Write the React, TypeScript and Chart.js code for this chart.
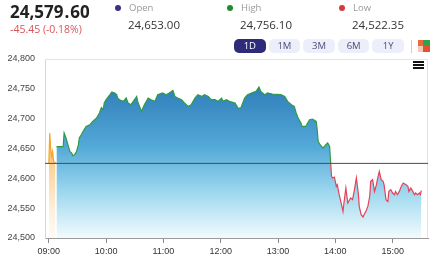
import React, { useEffect, useRef } from 'react';
import { Chart, registerables } from 'chart.js';

Chart.register(...registerables);

// ---- data ----
const preOpenTimes = ['09:00', '09:01', '09:02', '09:03', '09:04', '09:05', '09:07'];
const preOpenValues = [24625.7, 24676, 24648, 24636.8, 24645, 24628.4, 24625.7];

const sessionTimes = [
  '09:08', '09:15', '09:16', '09:18', '09:20', '09:22', '09:24', '09:25', '09:27', '09:29',
  '09:31', '09:32', '09:34', '09:36', '09:39', '09:43', '09:46', '09:50', '09:53', '09:55',
  '09:57', '09:58', '10:00', '10:04', '10:06', '10:09', '10:11', '10:12', '10:14', '10:18',
  '10:21', '10:23', '10:26', '10:32', '10:33', '10:37', '10:40', '10:44', '10:47', '10:51',
  '10:54', '10:59', '11:03', '11:06', '11:10', '11:12', '11:15', '11:19', '11:22', '11:26',
  '11:29', '11:33', '11:36', '11:40', '11:43', '11:47', '11:50', '11:54', '11:57', '12:01',
  '12:02', '12:06', '12:09', '12:15', '12:18', '12:21', '12:25', '12:28', '12:34', '12:37',
  '12:40', '12:42', '12:46', '12:49', '12:54', '13:03', '13:07', '13:10', '13:14', '13:17',
  '13:19', '13:21', '13:24', '13:25', '13:29', '13:31', '13:33', '13:36', '13:40', '13:41',
  '13:42', '13:44', '13:47', '13:50', '13:52', '13:54', '13:55', '13:56', '13:57', '13:59',
  '14:01', '14:02', '14:04', '14:06', '14:08', '14:09', '14:11', '14:13', '14:15', '14:16',
  '14:18', '14:20', '14:22', '14:24', '14:25', '14:27', '14:29', '14:30', '14:32', '14:34',
  '14:36', '14:37', '14:39', '14:41', '14:43', '14:44', '14:46', '14:48', '14:50', '14:51',
  '14:53', '14:55', '14:56', '14:58', '15:00', '15:02', '15:03', '15:05', '15:07', '15:09',
  '15:11', '15:14', '15:16', '15:17', '15:19', '15:21', '15:23', '15:24', '15:26', '15:28',
  '15:29', '15:30',
];
const sessionValues = [
  24653, 24653, 24676, 24667.6, 24656.4, 24645.1, 24642.4, 24637.9, 24639.6, 24645,
  24656.4, 24668, 24673, 24678.7, 24687, 24689.9, 24695.4, 24701, 24709.5, 24718.4,
  24715, 24726.3, 24731.8, 24740.2, 24744.7, 24743, 24740.2, 24734.6, 24731.8, 24729,
  24734.6, 24726.3, 24723.4, 24737.3, 24729, 24712.2, 24723.4, 24734.6, 24731.8, 24729,
  24740.2, 24743, 24740.2, 24743, 24747.4, 24737.3, 24734.6, 24731.8, 24726.3, 24720.6,
  24723.4, 24734.6, 24740.2, 24737.3, 24740.2, 24737.3, 24731.8, 24731.8, 24729, 24734.6,
  24729, 24731.8, 24729, 24726.3, 24717.9, 24717.9, 24734.6, 24740.2, 24744, 24745.7,
  24753, 24745.7, 24740.2, 24743, 24741.3, 24740.2, 24737.3, 24729, 24723.4, 24720.6,
  24709.5, 24701.1, 24692.7, 24687, 24687, 24692.7, 24698.3, 24699.4, 24695.4, 24681.5,
  24661.9, 24656.4, 24650.8, 24656.4, 24659.2, 24653.5, 24628.4, 24603.2, 24600.6, 24602.2,
  24586.5, 24589.3, 24572.6, 24558.7, 24544.6, 24558.7, 24583.8, 24558.7, 24564.2, 24567,
  24564.2, 24581, 24600.6, 24575.4, 24553, 24539, 24535.2, 24539, 24544.6, 24553,
  24569.7, 24594.9, 24597.7, 24578.1, 24589.3, 24597.7, 24611.6, 24597.7, 24594.9, 24589.3,
  24564.2, 24561.3, 24578.1, 24581, 24575.4, 24572.6, 24578.1, 24572.6, 24578.1, 24586.5,
  24592.2, 24589.3, 24586.5, 24578.1, 24583.8, 24578.1, 24572.6, 24575.4, 24572.6, 24575.4,
  24572.6, 24579.6,
];

const previousClose = 24625.05;
const xTickLabels = ['09:00', '10:00', '11:00', '12:00', '13:00', '14:00', '15:00'];
const yTickValues = [24500, 24550, 24600, 24650, 24700, 24750, 24800];
const xRange = ['08:56', '15:37'];

const stats = [
  { label: 'Open', value: '24,653.00', dot: '#3b2f80', left: 115 },
  { label: 'High', value: '24,756.10', dot: '#1f8a2f', left: 227 },
  { label: 'Low', value: '24,522.35', dot: '#d63a3a', left: 339 },
];
const ranges = ['1D', '1M', '3M', '6M', '1Y'];

// ---- helpers ----
const toMin = (s: string) => {
  const [h, m] = s.split(':').map(Number);
  return h * 60 + m;
};
const fmtMin = (v: number) =>
  `${String(Math.floor(v / 60)).padStart(2, '0')}:${String(Math.round(v % 60)).padStart(2, '0')}`;

const FONT = "'Open Sans', sans-serif";
const AXIS_FONT = "'Liberation Sans', Arial, sans-serif";

export default function App() {
  const ref = useRef<HTMLCanvasElement>(null);

  useEffect(() => {
    if (!ref.current) return;
    const xMin = toMin(xRange[0]);
    const xMax = toMin(xRange[1]);

    const lineGrad = (chart: any, above: string, below: string) => {
      const area = chart.chartArea;
      if (!area) return above;
      const y = chart.scales.y.getPixelForValue(previousClose);
      const r = Math.min(1, Math.max(0, (y - area.top) / (area.bottom - area.top)));
      const g = chart.ctx.createLinearGradient(0, area.top, 0, area.bottom);
      g.addColorStop(0, above);
      g.addColorStop(r, above);
      g.addColorStop(r, below);
      g.addColorStop(1, below);
      return g;
    };
    const fillGrad = (chart: any, stops: [number, string][], topValue: number) => {
      const area = chart.chartArea;
      if (!area) return stops[0][1];
      const top = chart.scales.y.getPixelForValue(topValue);
      const g = chart.ctx.createLinearGradient(0, top, 0, area.bottom);
      stops.forEach(([o, c]) => g.addColorStop(o, c));
      return g;
    };

    const framePlugin = {
      id: 'frame',
      beforeDatasetsDraw(chart: any) {
        const { ctx, chartArea: a } = chart;
        ctx.save();
        ctx.strokeStyle = '#e4e4e4';
        ctx.lineWidth = 1;
        ctx.beginPath();
        ctx.moveTo(a.left, a.top + 0.5);
        ctx.lineTo(a.right, a.top + 0.5);
        ctx.moveTo(a.right - 0.5, a.top);
        ctx.lineTo(a.right - 0.5, a.bottom);
        ctx.stroke();
        ctx.restore();
      },
    };

    const chart = new Chart(ref.current, {
      type: 'line',
      data: {
        datasets: [
          {
            data: [
              { x: xMin, y: previousClose },
              { x: xMax, y: previousClose },
            ],
            borderColor: '#4a4a4a',
            borderWidth: 1,
            pointRadius: 0,
            fill: false,
            order: 0,
          },
          {
            data: sessionTimes.map((t, i) => ({ x: toMin(t), y: sessionValues[i] })),
            borderColor: (c: any) => lineGrad(c.chart, '#2f9a45', '#e4425a'),
            backgroundColor: (c: any) =>
              fillGrad(
                c.chart,
                [
                  [0, '#2f7db9'],
                  [0.4, '#53a9d8'],
                  [0.7, '#9dd8ef'],
                  [1, '#f2fbfd'],
                ],
                24755,
              ),
            borderWidth: 1.2,
            pointRadius: 0,
            fill: 'start',
            tension: 0,
            order: 1,
          },
          {
            data: preOpenTimes.map((t, i) => ({ x: toMin(t), y: preOpenValues[i] })),
            borderColor: '#f3a72a',
            backgroundColor: (c: any) =>
              fillGrad(
                c.chart,
                [
                  [0, 'rgba(246,178,70,0.95)'],
                  [0.5, 'rgba(250,210,150,0.7)'],
                  [1, 'rgba(255,240,225,0.3)'],
                ],
                24676,
              ),
            borderWidth: 1.2,
            pointRadius: 0,
            fill: 'start',
            tension: 0,
            order: 2,
          },
        ],
      },
      options: {
        animation: false,
        responsive: false,
        devicePixelRatio: 1,
        layout: { padding: { top: 59, right: 17, left: 0, bottom: 0 } },
        plugins: { legend: { display: false }, tooltip: { enabled: false } },
        scales: {
          x: {
            type: 'linear',
            min: xMin,
            max: xMax,
            afterBuildTicks: (s: any) => {
              s.ticks = xTickLabels.map((l) => ({ value: toMin(l) }));
            },
            afterFit: (s: any) => {
              s.height = 23;
            },
            grid: {
              display: true,
              drawOnChartArea: false,
              drawTicks: true,
              tickLength: 5,
              color: '#8a8a8a',
            },
            border: { display: true, color: '#9a9a9a' },
            ticks: {
              padding: 3,
              maxRotation: 0,
              autoSkip: false,
              color: '#333',
              font: { family: AXIS_FONT, size: 9 },
              callback: (v: any) => fmtMin(Number(v)),
            },
          },
          y: {
            min: yTickValues[0],
            max: yTickValues[yTickValues.length - 1],
            afterBuildTicks: (s: any) => {
              s.ticks = yTickValues.map((v) => ({ value: v }));
            },
            afterFit: (s: any) => {
              s.width = 45;
            },
            grid: { display: false, drawTicks: false },
            border: { display: true, color: '#d6d6d6' },
            ticks: {
              padding: 10,
              color: '#444',
              font: { family: AXIS_FONT, size: 9 },
              callback: (v: any) => Number(v).toLocaleString('en-US'),
            },
          },
        },
      },
      plugins: [framePlugin],
    } as any);

    return () => chart.destroy();
  }, []);

  return (
    <div
      style={{
        position: 'absolute',
        left: 0,
        top: 0,
        width: 445,
        height: 261,
        background: '#fff',
        overflow: 'hidden',
        fontFamily: FONT,
      }}
    >
      <canvas
        ref={ref}
        width={445}
        height={261}
        style={{ position: 'absolute', left: 0, top: 0, width: 445, height: 261 }}
      />
      <div
        style={{
          position: 'absolute',
          left: 10,
          top: 3,
          fontSize: 17,
          lineHeight: '17px',
          fontWeight: 700,
          color: '#222',
          whiteSpace: 'nowrap',
        }}
      >
        24,579<span style={{ margin: '0 1px' }}>.</span>60
      </div>
      <div
        style={{
          position: 'absolute',
          left: 10,
          top: 24,
          fontSize: 10.5,
          lineHeight: '10.5px',
          color: '#d9555a',
          whiteSpace: 'nowrap',
        }}
      >
        -45.45 (-0.18%)
      </div>
      {stats.map((s) => (
        <React.Fragment key={s.label}>
          <div
            style={{
              position: 'absolute',
              left: s.left,
              top: 5,
              width: 6,
              height: 6,
              borderRadius: 3,
              background: s.dot,
            }}
          />
          <div
            style={{
              position: 'absolute',
              left: s.left + 14,
              top: 3,
              fontSize: 9.5,
              lineHeight: '9.5px',
              color: '#999',
              whiteSpace: 'nowrap',
            }}
          >
            {s.label}
          </div>
          <div
            style={{
              position: 'absolute',
              left: s.left + 13,
              top: 18.7,
              fontSize: 11.5,
              lineHeight: '11.5px',
              color: '#333',
              whiteSpace: 'nowrap',
            }}
          >
            {s.value}
          </div>
        </React.Fragment>
      ))}
      {ranges.map((r, i) => (
        <div
          key={r}
          style={{
            position: 'absolute',
            left: 234 + i * 34.6,
            top: 39,
            width: 31.7,
            height: 14,
            borderRadius: 5,
            background: i === 0 ? '#2e2b7b' : '#eceefa',
            color: i === 0 ? '#fff' : '#4a4d78',
            fontSize: 9.5,
            lineHeight: '14px',
            textAlign: 'center',
          }}
        >
          {r}
        </div>
      ))}
      <div style={{ position: 'absolute', left: 411, top: 40, width: 1, height: 13, background: '#cfcfcf' }} />
      <div style={{ position: 'absolute', left: 418, top: 40, width: 12, height: 12 }}>
        <div style={{ position: 'absolute', left: 0, top: 0, width: 5, height: 6, background: '#e86a3a' }} />
        <div style={{ position: 'absolute', left: 5, top: 0, width: 7, height: 6, background: '#2fa24a' }} />
        <div style={{ position: 'absolute', left: 0, top: 6, width: 5, height: 6, background: '#f6c9b6' }} />
        <div style={{ position: 'absolute', left: 5, top: 6, width: 7, height: 6, background: '#e5502f' }} />
      </div>
      {[61, 64, 67].map((t) => (
        <div key={t} style={{ position: 'absolute', left: 413, top: t, width: 11, height: 2, background: '#111' }} />
      ))}
    </div>
  );
}
